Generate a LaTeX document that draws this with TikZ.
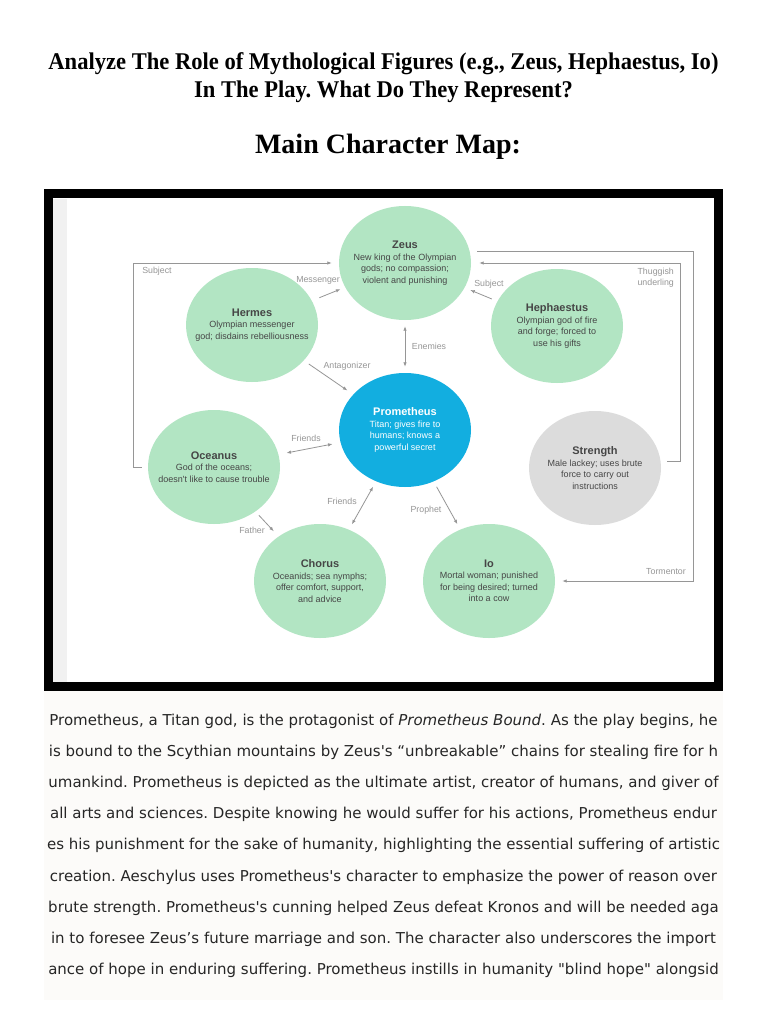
\documentclass[tikz,border=0pt]{standalone}
\usepackage{fontspec}
\usepackage{tikz}
\usetikzlibrary{arrows.meta,positioning,shapes.geometric}
\setmainfont{Liberation Serif}
\newfontfamily\mapfont{Liberation Sans}
\newfontfamily\bodyfont{DejaVu Sans}[Ligatures=TeXOff]
\newfontfamily\headfont{Liberation Serif}[FakeStretch=0.94]
\definecolor{mint}{RGB}{178,229,195}
\definecolor{titan}{RGB}{18,174,224}
\definecolor{lackey}{RGB}{220,220,220}
\definecolor{wire}{RGB}{150,150,150}
\definecolor{ink}{RGB}{70,70,70}
\definecolor{paper}{RGB}{252,251,249}
\definecolor{strip}{RGB}{241,241,241}
\newcommand\who[1]{{\fontsize{11}{12}\selectfont\bfseries #1}}
\frenchspacing

\begin{document}
\begin{tikzpicture}[x=1pt, y=-1pt,
  person/.style={ellipse, fill=mint, minimum width=132pt, minimum height=114pt, inner sep=0pt},
  bio/.style={align=center, text=ink, inner sep=0pt, font=\mapfont\fontsize{9}{11.5}\selectfont},
  rel/.style={draw=wire, line width=0.8pt, -{Latex[length=4.5pt,width=3.5pt]}},
  relpair/.style={rel, {Latex[length=4.5pt,width=3.5pt]}-{Latex[length=4.5pt,width=3.5pt]}},
  rellabel/.style={text=wire, font=\mapfont\fontsize{8.8}{11}\selectfont, inner sep=0pt}]
\useasboundingbox (0,0) rectangle (768,1024);
\fill[white] (0,0) rectangle (768,1024);
% heading
\node[font=\headfont\bfseries\fontsize{24}{28}\selectfont, align=center] (title) at (383.5,78)
  {Analyze The Role of Mythological Figures (e.g., Zeus, Hephaestus, Io)\\In The Play. What Do They Represent?};
\node[font=\bfseries\fontsize{28}{32}\selectfont] (maptitle) at (388,147) {Main Character Map:};
% frame of the map
\fill[strip] (53,199) rectangle (67,682);
\draw[line width=9pt] (48.5,194) rectangle (718.5,686.5);
% characters
\node[person, label={[bio]center:{\who{Zeus}\\New king of the Olympian\\gods; no compassion;\\violent and punishing}}]
  (zeus) at (405,263) {};
\node[person, label={[bio]center:{\who{Hermes}\\Olympian messenger\\god; disdains rebelliousness}}]
  (hermes) at (252,325) {};
\node[person, label={[bio]center:{\who{Hephaestus}\\Olympian god of fire\\and forge; forced to\\use his gifts}}]
  (hephaestus) at (557,326) {};
\node[person, fill=titan, label={[bio, text=white]center:{\who{Prometheus}\\Titan; gives fire to\\humans; knows a\\powerful secret}}]
  (prometheus) at (405,430) {};
\node[person, label={[bio]center:{\who{Oceanus}\\God of the oceans;\\doesn't like to cause trouble}}]
  (oceanus) at (214,467) {};
\node[person, fill=lackey, label={[bio]center:{\who{Strength}\\Male lackey; uses brute\\force to carry out\\instructions}}]
  (strength) at (595,468) {};
\node[person, label={[bio]center:{\who{Chorus}\\Oceanids; sea nymphs;\\offer comfort, support,\\and advice}}]
  (chorus) at (320,581) {};
\node[person, label={[bio]center:{\who{Io}\\Mortal woman; punished\\for being desired; turned\\into a cow}}]
  (io) at (489,581) {};
% direct ties
\draw[rel, shorten <=8pt, shorten >=5pt] (hermes) -- (zeus);
\draw[rel, shorten <=6pt, shorten >=7pt] (hermes) -- (prometheus);
\draw[relpair, shorten <=6pt, shorten >=6pt] (zeus) -- (prometheus);
\draw[rel, shorten <=6pt, shorten >=6pt] (hephaestus) -- (zeus);
\draw[relpair, shorten <=8pt, shorten >=8pt] (oceanus) -- (prometheus);
\draw[relpair, shorten <=6pt, shorten >=6pt] (chorus) -- (prometheus);
\draw[rel, shorten <=5pt, shorten >=7pt] (oceanus) -- (chorus);
\draw[rel, shorten <=6pt, shorten >=6pt] (prometheus) -- (io);
% elbow ties
\draw[rel] ([xshift=-6pt]oceanus.west) -- ++(-8,0) |- ([xshift=-7pt]zeus.west);
\draw[rel] ([xshift=6pt,yshift=7pt]strength.east) -- ++(13,0) |- ([xshift=8pt]zeus.east);
\draw[rel] ([xshift=6pt,yshift=12pt]zeus.east) -- ++(216,0) |- ([xshift=7pt]io.east);
% tie labels
\node[rellabel] (subject-l) at (157,271) {Subject};
\node[rellabel, anchor=east] (messenger) at (340,280) {Messenger};
\node[rellabel] (antagonizer) at (347,366) {Antagonizer};
\node[rellabel] (enemies) at (429,346) {Enemies};
\node[rellabel] (subject-r) at (489,284) {Subject};
\node[rellabel, align=right, anchor=east] (thuggish) at (674,278) {Thuggish\\underling};
\node[rellabel] (friends-o) at (306,438) {Friends};
\node[rellabel] (friends-c) at (342,501) {Friends};
\node[rellabel] (father) at (252,530) {Father};
\node[rellabel] (prophet) at (426,510) {Prophet};
\node[rellabel] (tormentor) at (666,572) {Tormentor};
% body text
\fill[paper] (44,691) rectangle (723,1000);
\foreach \txt [count=\k] in {
  {Prometheus, a Titan god, is the protagonist of \textit{Prometheus Bound}. As the play begins, he},
  {is bound to the Scythian mountains by Zeus's “unbreakable” chains for stealing fire for h},
  {umankind. Prometheus is depicted as the ultimate artist, creator of humans, and giver of},
  {all arts and sciences. Despite knowing he would suffer for his actions, Prometheus endur},
  {es his punishment for the sake of humanity, highlighting the essential suffering of artistic},
  {creation. Aeschylus uses Prometheus's character to emphasize the power of reason over},
  {brute strength. Prometheus's cunning helped Zeus defeat Kronos and will be needed aga},
  {in to foresee Zeus’s future marriage and son. The character also underscores the import},
  {ance of hope in enduring suffering. Prometheus instills in humanity "blind hope" alongsid}}
  \node[anchor=base, font=\bodyfont\fontsize{15}{17}\selectfont, text=black!85] (body\k)
    at (383.5,{694.4+31.1*\k}) {\txt};
\end{tikzpicture}
\end{document}
